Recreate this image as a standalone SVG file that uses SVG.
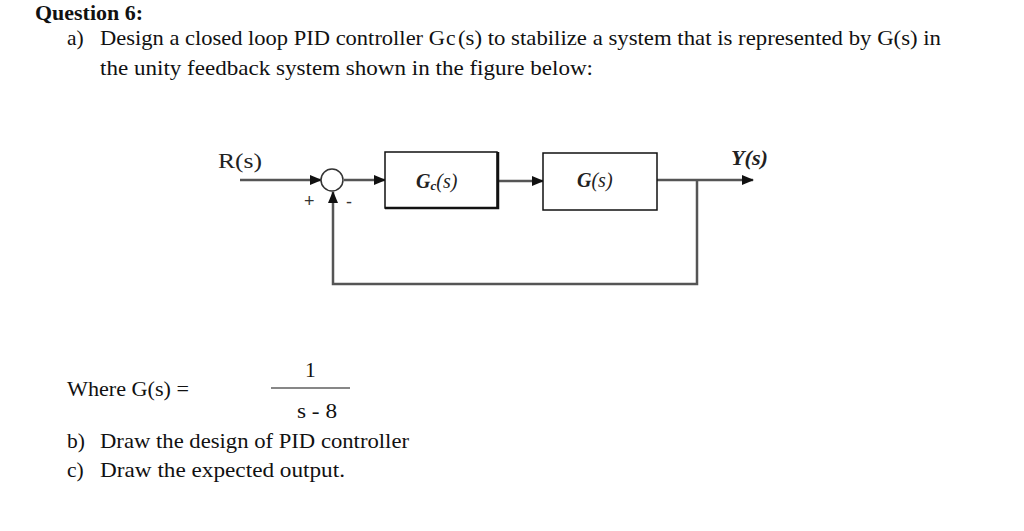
<svg xmlns="http://www.w3.org/2000/svg" width="1024" height="531" viewBox="0 0 1024 531">
<style>
.t{font-family:"Liberation Serif","DejaVu Serif",serif;font-size:21.5px;fill:#111}
.q{font-family:"Liberation Serif",serif;font-size:22px;font-weight:bold;fill:#111}
.lbl{font-family:"Liberation Serif",serif;font-size:21px;fill:#222}
.it{font-family:"Liberation Serif",serif;font-size:20px;font-style:italic;font-weight:bold;fill:#222}
.ln{stroke:#555;stroke-width:2.5;fill:none}
.box{stroke:#111;stroke-width:1.5;fill:#fff}
.sm{font-family:"Liberation Sans",sans-serif;font-size:18px;fill:#333}
</style>
<defs>
<marker id="ah" markerWidth="12" markerHeight="10" refX="11" refY="5" orient="auto" markerUnits="userSpaceOnUse">
<path d="M0,0 L12,5 L0,10 Z" fill="#111"/>
</marker>
</defs>
<rect width="1024" height="531" fill="#fff"/>
<text class="q" x="35" y="20" textLength="108" lengthAdjust="spacingAndGlyphs">Question 6:</text>
<text class="t" x="67" y="45">a)</text>
<text class="t" x="100" y="45" textLength="345" lengthAdjust="spacingAndGlyphs">Design a closed loop PID controller G</text>
<text class="t" x="446" y="45" font-size="14">c</text>
<text class="t" x="458" y="45" textLength="483" lengthAdjust="spacingAndGlyphs">(s) to stabilize a system that is represented by G(s) in</text>
<text class="t" x="100" y="75" textLength="493" lengthAdjust="spacingAndGlyphs">the unity feedback system shown in the figure below:</text>

<g id="connectors">
<line class="ln" x1="240" y1="180" x2="321" y2="180" marker-end="url(#ah)"/>
<line class="ln" x1="344" y1="180" x2="385" y2="180" marker-end="url(#ah)"/>
<line class="ln" x1="498" y1="181" x2="543" y2="181" marker-end="url(#ah)"/>
<line class="ln" x1="657" y1="180" x2="753" y2="180" marker-end="url(#ah)"/>
<polyline class="ln" points="697,180 697,284 333,284 333,192" marker-end="url(#ah)"/>
</g>

<g id="sum">
<circle cx="332" cy="180" r="11" fill="#fff" stroke="#333" stroke-width="1.5"/>
<text class="sm" x="304" y="207">+</text>
<text class="sm" x="346" y="208">-</text>
</g>

<g id="input">
<text class="lbl" x="218" y="168" textLength="44" lengthAdjust="spacingAndGlyphs">R(s)</text>
</g>

<g id="gc">
<rect class="box" x="385" y="152" width="112" height="56"/>
<polyline points="385,208 498,208 498,152" fill="none" stroke="#111" stroke-width="2.5"/>
<text class="it" x="416" y="188">G<tspan font-size="13" dy="2">c</tspan><tspan dy="-2" font-weight="normal">(s)</tspan></text>
</g>

<g id="g">
<rect class="box" x="543" y="153" width="114" height="57"/>
<text class="it" x="577" y="187">G<tspan font-weight="normal">(s)</tspan></text>
</g>

<g id="output">
<text class="it" x="731" y="165" font-weight="normal" textLength="37" lengthAdjust="spacingAndGlyphs">Y(s)</text>
</g>

<text class="t" x="67" y="396" textLength="122" lengthAdjust="spacingAndGlyphs">Where G(s) =</text>
<text class="t" x="305" y="377" font-size="19">1</text>
<line x1="271" y1="388" x2="350" y2="388" stroke="#111" stroke-width="1.2"/>
<text class="t" x="297" y="418" font-size="19" textLength="40" lengthAdjust="spacingAndGlyphs">s - 8</text>
<text class="t" x="67" y="448">b)</text>
<text class="t" x="100" y="448" textLength="309" lengthAdjust="spacingAndGlyphs">Draw the design of PID controller</text>
<text class="t" x="67" y="477">c)</text>
<text class="t" x="100" y="477" textLength="245" lengthAdjust="spacingAndGlyphs">Draw the expected output.</text>
</svg>
